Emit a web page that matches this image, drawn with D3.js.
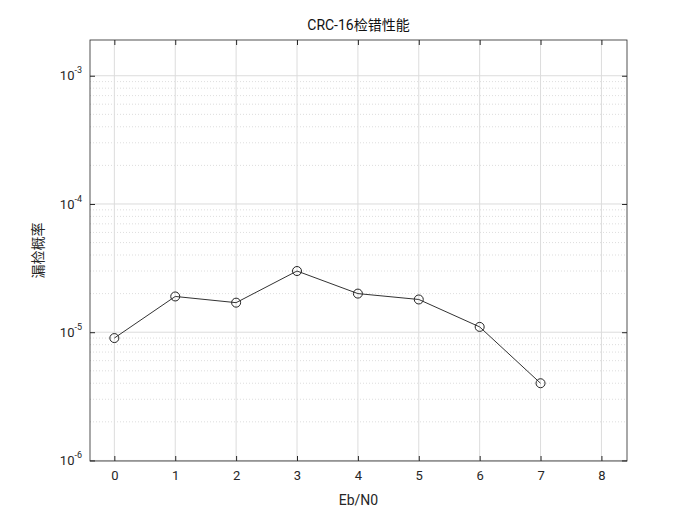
<!DOCTYPE html>
<html><head><meta charset="utf-8">
<script src="https://cdn.jsdelivr.net/npm/d3@7"></script>
<style>body{margin:0;background:#fff}</style>
</head><body>
<div id="chart"></div>
<script>
const ebn0 = [0, 1, 2, 3, 4, 5, 6, 7];
const missRate = [9e-6, 1.9e-5, 1.7e-5, 3e-5, 2e-5, 1.8e-5, 1.1e-5, 4e-6];
const xTicks = [0, 1, 2, 3, 4, 5, 6, 7, 8];
const yMajor = [1e-6, 1e-5, 1e-4, 1e-3];

const W = 692, H = 519;
const margin = { top: 40, right: 65, bottom: 58, left: 90 };
const iw = W - margin.left - margin.right, ih = H - margin.top - margin.bottom;
const font = "Roboto, 'Noto Sans CJK SC', sans-serif";

const svg = d3.select('#chart').append('svg').attr('width', W).attr('height', H);
const g = svg.append('g').attr('transform', `translate(${margin.left},${margin.top})`);

const x = d3.scaleLinear().domain([-0.4, 8.42]).range([0, iw]);
const y = d3.scaleLog().domain([0.99e-6, 1.9e-3]).range([ih, 0]);

// minor grid
const minors = [];
for (let e = -6; e <= -3; e++) for (let m = 2; m <= 9; m++) {
  const v = m * Math.pow(10, e);
  if (v <= 1.9e-3) minors.push(v);
}
g.append('g').selectAll('line').data(minors).enter().append('line')
  .attr('x1', 0).attr('x2', iw).attr('y1', d => y(d)).attr('y2', d => y(d))
  .attr('stroke', '#d4d4d4').attr('stroke-dasharray', '1,2').attr('stroke-width', 0.8);
// major grid
g.append('g').selectAll('line').data(yMajor).enter().append('line')
  .attr('x1', 0).attr('x2', iw).attr('y1', d => y(d)).attr('y2', d => y(d))
  .attr('stroke', '#dcdcdc');
g.append('g').selectAll('line').data(xTicks).enter().append('line')
  .attr('y1', 0).attr('y2', ih).attr('x1', d => x(d)).attr('x2', d => x(d))
  .attr('stroke', '#dcdcdc');

// axes
const xAxis = g.append('g').attr('transform', `translate(0,${ih})`)
  .call(d3.axisBottom(x).tickValues(xTicks).tickSize(-5).tickPadding(10).tickSizeOuter(0));
const yAxis = g.append('g')
  .call(d3.axisLeft(y).tickValues(yMajor).tickSize(-5).tickPadding(8).tickSizeOuter(0).tickFormat(() => ''));
g.append('g').attr('transform', `translate(${iw},0)`)
  .call(d3.axisRight(y).tickValues(yMajor).tickSize(-5).tickFormat('').tickSizeOuter(0));
g.append('g').call(d3.axisTop(x).tickValues(xTicks).tickSize(-5).tickFormat('').tickSizeOuter(0));
g.selectAll('.domain').remove();
g.selectAll('.tick line').attr('stroke', '#262626');
xAxis.selectAll('text').attr('font-size', 13).attr('font-family', font).attr('fill', '#262626');

yAxis.selectAll('.tick').each(function(d) {
  const t = d3.select(this).select('text').attr('font-size', 13).attr('font-family', font).attr('fill', '#262626');
  t.text('10');
  t.append('tspan').attr('dy', -7).attr('font-size', 9).text(Math.round(Math.log10(d)));
});
g.append('rect').attr('width', iw).attr('height', ih).attr('fill', 'none').attr('stroke', '#262626').attr('stroke-width', 0.8);

// line + markers
const line = d3.line().x((d, i) => x(ebn0[i])).y(d => y(d));
g.append('path').datum(missRate).attr('d', line).attr('fill', 'none').attr('stroke', '#333').attr('stroke-width', 1);
g.selectAll('circle.pt').data(missRate).enter().append('circle')
  .attr('cx', (d, i) => x(ebn0[i])).attr('cy', d => y(d)).attr('r', 4.5)
  .attr('fill', 'none').attr('stroke', '#222').attr('stroke-width', 1);

// labels
svg.append('text').attr('x', margin.left + iw / 2).attr('y', 30).attr('text-anchor', 'middle')
  .attr('font-family', font).attr('font-size', 14).attr('fill', '#111').text('CRC-16检错性能');
svg.append('text').attr('x', margin.left + iw / 2).attr('y', 505).attr('text-anchor', 'middle')
  .attr('font-family', font).attr('font-size', 14).attr('fill', '#262626').text('Eb/N0');
svg.append('text').attr('transform', `translate(43,${margin.top + ih / 2}) rotate(-90)`)
  .attr('text-anchor', 'middle').attr('font-family', "'Noto Sans CJK SC', serif").attr('font-size', 14)
  .attr('fill', '#262626').text('漏检概率');
</script>
</body></html>
